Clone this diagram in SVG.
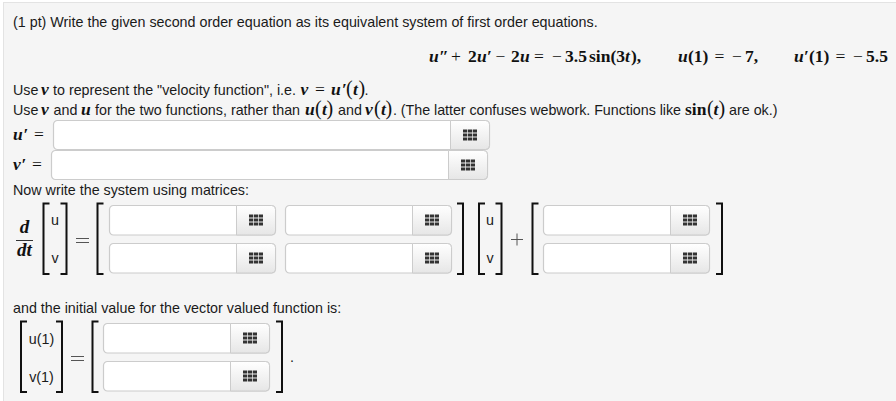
<svg xmlns="http://www.w3.org/2000/svg" width="896" height="401" viewBox="0 0 896 401">
<style>
text{font-family:"Liberation Sans",Arial,sans-serif;font-size:14.3px;fill:#1a1a1a}
.m{font-family:"Liberation Serif","Times New Roman",serif;font-size:17.5px;font-weight:bold;fill:#111}
.i{font-style:italic}
.n{font-weight:normal}
.p{font-size:20px;font-weight:normal}
.box{fill:#fff;stroke:#ccc;stroke-width:1.2}
.btn{fill:url(#g);stroke:#ccc;stroke-width:1}
.br{fill:none;stroke:#111;stroke-width:2}
.gl{fill:#333}
.eq{stroke:#555;stroke-width:1;fill:none}
</style>
<defs>
<linearGradient id="g" x1="0" y1="0" x2="0" y2="1"><stop offset="0" stop-color="#fff"/><stop offset="1" stop-color="#e6e6e6"/></linearGradient>
<g id="ic"><rect class="gl" x="-7" y="-5.500" width="4.200" height="3"/><rect class="gl" x="-2.100" y="-5.500" width="4.200" height="3"/><rect class="gl" x="2.800" y="-5.500" width="4.200" height="3"/><rect class="gl" x="-7" y="-1.500" width="4.200" height="3"/><rect class="gl" x="-2.100" y="-1.500" width="4.200" height="3"/><rect class="gl" x="2.800" y="-1.500" width="4.200" height="3"/><rect class="gl" x="-7" y="2.500" width="4.200" height="3"/><rect class="gl" x="-2.100" y="2.500" width="4.200" height="3"/><rect class="gl" x="2.800" y="2.500" width="4.200" height="3"/></g>
<g id="f"><rect class="box" x="0" y="0" width="166" height="29.500" rx="4"/><path class="btn" d="M127 0H162a4 4 0 0 1 4 4V25.500a4 4 0 0 1-4 4H127Z"/><use href="#ic" x="146.500" y="14.500"/></g>
<g id="f2"><rect class="box" x="0" y="0" width="436" height="29" rx="4"/><path class="btn" d="M397 0H432a4 4 0 0 1 4 4V25a4 4 0 0 1-4 4H397Z"/><use href="#ic" x="416.500" y="14.500"/></g>
<path id="lb" class="br" d="M6 0H0V70.500H6"/>
<path id="rb" class="br" d="M-6 0H0V70.500H-6"/>
</defs>
<rect width="896" height="401" fill="#fff"/>
<rect x="3.500" y="2.500" width="900" height="410" fill="#f5f5f5" stroke="#e3e3e3"/>
<g id="prompt">
<text x="13" y="27">(1 pt) Write the given second order equation as its equivalent system of first order equations.</text>
<text y="95"><tspan x="13">Use</tspan><tspan class="m i" x="41">v</tspan><tspan x="53">to represent the "velocity function", i.e.</tspan><tspan class="m i" x="300.500">v</tspan><tspan class="m n" x="315">=</tspan><tspan class="m i" x="331">u</tspan><tspan class="m" x="342">′</tspan><tspan class="m p" x="346">(</tspan><tspan class="m i" x="353">t</tspan><tspan class="m p" x="358.500">)</tspan><tspan x="364.500">.</tspan></text>
<text y="115"><tspan x="13">Use</tspan><tspan class="m i" x="41">v</tspan><tspan x="53.500">and</tspan><tspan class="m i" x="81">u</tspan><tspan x="95">for the two functions, rather than</tspan><tspan class="m i" x="305">u</tspan><tspan class="m p" x="315">(</tspan><tspan class="m i" x="322">t</tspan><tspan class="m p" x="326.500">)</tspan><tspan x="338">and</tspan><tspan class="m i" x="365">v</tspan><tspan class="m p" x="374">(</tspan><tspan class="m i" x="381">t</tspan><tspan class="m p" x="385.500">)</tspan></text>
<text x="393" y="115" textLength="288" lengthAdjust="spacing">. (The latter confuses webwork. Functions like</text>
<text y="115"><tspan class="m" x="685">sin</tspan><tspan class="m p" x="707">(</tspan><tspan class="m i" x="713.500">t</tspan><tspan class="m p" x="718.500">)</tspan><tspan x="729">are ok.)</tspan></text>
<text x="13" y="195">Now write the system using matrices:</text>
<text x="13" y="313">and the initial value for the vector valued function is:</text>
</g>
<g id="equation">
<text class="m" y="62"><tspan class="i" x="429">u</tspan><tspan x="439">″</tspan><tspan class="n" x="451">+</tspan><tspan x="468">2</tspan><tspan class="i" x="477">u</tspan><tspan x="487">′</tspan><tspan class="n" x="495.500">−</tspan><tspan x="511">2</tspan><tspan class="i" x="520">u</tspan><tspan class="n" x="534">=</tspan><tspan class="n" x="552">−</tspan><tspan x="565">3.5</tspan><tspan x="589">sin</tspan><tspan x="610.500">(3</tspan><tspan class="i" x="625">t</tspan><tspan x="631">),</tspan></text>
<text class="m" y="62"><tspan class="i" x="678">u</tspan><tspan x="688">(1)</tspan><tspan class="n" x="714.500">=</tspan><tspan class="n" x="732">−</tspan><tspan x="745">7,</tspan></text>
<text class="m" y="62"><tspan class="i" x="794">u</tspan><tspan x="804">′</tspan><tspan x="809">(1)</tspan><tspan class="n" x="835.500">=</tspan><tspan class="n" x="853">−</tspan><tspan x="866">5.5</tspan></text>
</g>
<g id="u-prime">
<text class="m" y="140"><tspan class="i" x="13">u</tspan><tspan x="23.500">′</tspan><tspan class="n" x="34">=</tspan></text>
<use href="#f2" x="53.500" y="120.500"/>
</g>
<g id="v-prime">
<text class="m" y="170"><tspan class="i" x="13">v</tspan><tspan x="21.500">′</tspan><tspan class="n" x="32">=</tspan></text>
<use href="#f2" x="51.500" y="150.500"/>
</g>
<g id="matrix-equation">
<text class="m i" x="24.500" y="233" text-anchor="middle" style="font-size:19px">d</text>
<path d="M16 240.500H33" stroke="#333" stroke-width="1"/>
<text class="m i" x="24.500" y="256" text-anchor="middle" style="font-size:19px">dt</text>
<use href="#lb" x="43.500" y="203.500"/><use href="#rb" x="66.500" y="203.500"/>
<text x="55" y="225" text-anchor="middle">u</text><text x="55" y="263" text-anchor="middle">v</text>
<path class="eq" d="M76 238.500H89M76 242.500H89"/>
<use href="#lb" x="97.500" y="203.500"/>
<use href="#f" x="109.500" y="205.500"/><use href="#f" x="109.500" y="243.500"/>
<use href="#f" x="285.500" y="205.500"/><use href="#f" x="285.500" y="243.500"/>
<use href="#rb" x="463" y="203.500"/>
<use href="#lb" x="479" y="203.500"/><use href="#rb" x="501.500" y="203.500"/>
<text x="490" y="225" text-anchor="middle">u</text><text x="490" y="263" text-anchor="middle">v</text>
<path class="eq" d="M511 239.500H523M517 233.500V245.500"/>
<use href="#lb" x="532.500" y="203.500"/>
<use href="#f" x="543.500" y="205.500"/><use href="#f" x="543.500" y="243.500"/>
<use href="#rb" x="722" y="203.500"/>
</g>
<g id="initial-value">
<use href="#lb" x="21" y="321.500"/><use href="#rb" x="62" y="321.500"/>
<text x="41.500" y="344" text-anchor="middle">u(1)</text><text x="41.500" y="382" text-anchor="middle">v(1)</text>
<path class="eq" d="M71 356.500H84M71 360.500H84"/>
<use href="#lb" x="92.500" y="321.500"/>
<use href="#f" x="103.500" y="323.500"/><use href="#f" x="103.500" y="361.500"/>
<use href="#rb" x="282" y="321.500"/>
<text x="290" y="362">.</text>
</g>
</svg>
